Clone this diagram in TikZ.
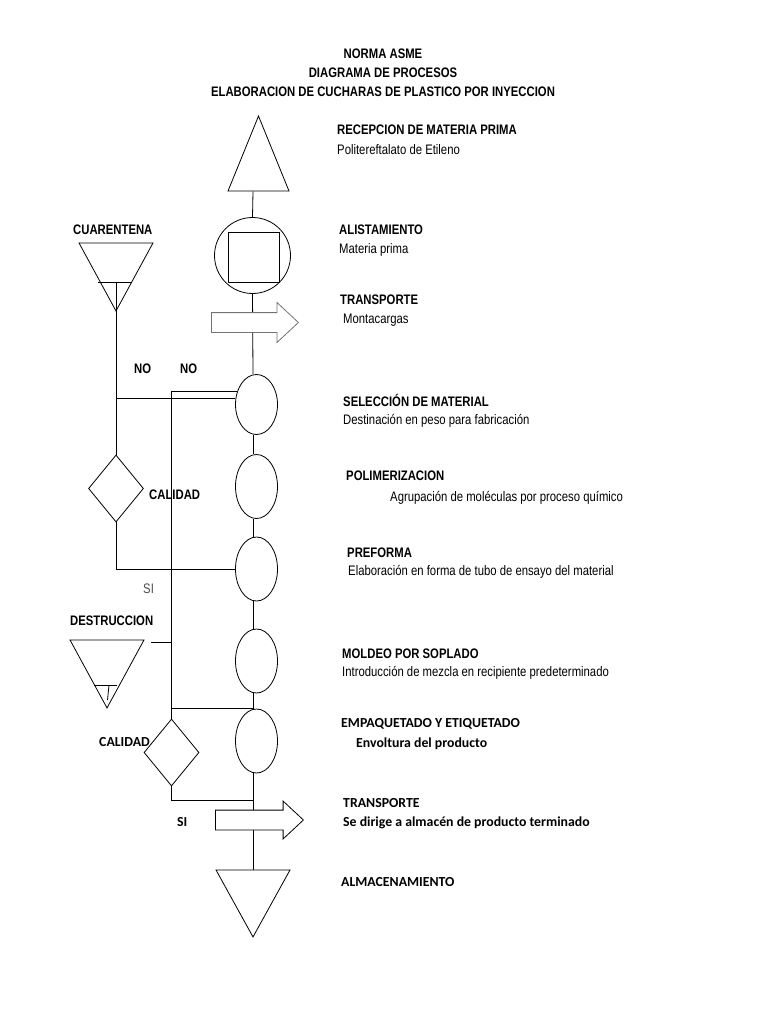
\documentclass[tikz,border=0pt]{standalone}
\usepackage{fontspec}
\setmainfont{Liberation Sans}[FakeStretch=0.82]
\newfontfamily\calibri{Carlito}
\usetikzlibrary{shapes.geometric,shapes.arrows,backgrounds,calc}

\begin{document}
\begin{tikzpicture}[x=1pt,y=-1pt]
\tikzstyle{main}=[draw=black, line width=0.8pt, inner sep=0pt, fill=white]
\tikzstyle{oper}=[main, ellipse, minimum width=42, minimum height=64]
\tikzstyle{insp}=[main, circle, minimum size=76]
\tikzstyle{almac}=[main, isosceles triangle, isosceles triangle stretches, shape border rotate=270, minimum width=74, minimum height=68, anchor=apex]
\tikzstyle{recep}=[almac, shape border rotate=90, minimum width=61, minimum height=75]
\tikzstyle{transp}=[main, single arrow, inner ysep=9.5pt, single arrow head extend=10, single arrow tip angle=86, minimum height=87, anchor=tail]
\tikzstyle{decis}=[main, diamond, minimum width=55, minimum height=67]
\tikzstyle{connect}=[line width=0.8pt]
\tikzstyle{tit}=[inner sep=0pt, anchor=base, font=\bfseries\fontsize{13.8}{16}\selectfont]
\tikzstyle{etiq}=[inner sep=0pt, anchor=base west, font=\bfseries\fontsize{13.8}{16}\selectfont]
\tikzstyle{desc}=[etiq, font=\fontsize{13.8}{16}\selectfont]
\tikzstyle{cetiq}=[etiq, font=\calibri\bfseries\fontsize{13.8}{16}\selectfont]

  \useasboundingbox (0,0) rectangle (768,1024);

  % titulo
  \node[tit] (tit1) at (383,59) {NORMA ASME};
  \node[tit] (tit2) at (383,78) {DIAGRAMA DE PROCESOS};
  \node[tit] (tit3) at (383,97) {ELABORACION DE CUCHARAS DE PLASTICO POR INYECCION};

  % columna principal
  \coordinate (eje) at (253,0);
  \node[recep] (recep) at (258.5,115) {};
  \node[insp]  (insp)  at (252.5,255.5) {};
  \node[main, rectangle, minimum width=51, minimum height=50] (cuad) at (253.5,257) {};
  \node[transp, draw=black!55] (trans1) at (211,322.5) {};
  \node[oper, minimum height=60] (E1) at (256.5,404.5) {};
  \node[oper] (E2) [below of =E1, node distance=82]   {};
  \node[oper] (E3) [below of =E2, node distance=82.5] {};
  \node[oper] (E4) [below of =E3, node distance=92]   {};
  \node[oper] (E5) [below of =E4, node distance=80]   {};
  \node[transp, minimum height=88, single arrow head extend=9] (trans2) at (215,820) {};
  \node[almac, minimum height=67] (alm) at (253,938) {};
  \coordinate (uni) at (253,800);

  % ramas de control
  \node[almac] (cuar) at (116,312) {};
  \draw[connect] (97.5,282) -- (130.5,282);
  \draw[connect] (116,282) -- (cuar.apex);
  \node[decis] (cal1) at (116,488.5) {};
  \node[decis] (cal2) at (171.5,752.5) {};
  \node[almac] (des) at (107,709) {};
  \draw[connect] (94,685) -- (117,685);
  \draw[connect] (109,685) -- (107.5,700);
  \coordinate (desj) at (151,642);

  \begin{pgfonlayer}{background}
  \draw[connect] (recep.lower side -| eje) -- (insp.north);
  \draw[connect] (insp.south) -- (E1.north -| eje);
  \draw[connect] (E1.south -| eje) -- (E2.north -| eje);
  \draw[connect] (E2.south -| eje) -- (E3.north -| eje);
  \draw[connect] (E3.south -| eje) -- (E4.north -| eje);
  \draw[connect] (E4.south -| eje) -- (E5.north -| eje);
  \draw[connect] (E5.south -| eje) -- (alm.lower side -| eje);
  \draw[connect] (cuar.apex) -- (cal1.north);
  \draw[connect] (E1.165) -| (cal1.north);
  \draw[connect] (cal1.south) |- (E3.west);
  \draw[connect] (E1.147) -| (cal2.north);
  \draw[connect] (cal2.north |- E5.north) -- (E5.north -| eje);
  \draw[connect] (cal2.south) |- (uni);
  \draw[connect] (desj) -- (desj -| cal2.north);
  \end{pgfonlayer}

  % etiquetas izquierda
  \node[etiq] (lcuar) at (73,235) {CUARENTENA};
  \node[etiq] (lno1)  at (134,373) {NO};
  \node[etiq] (lno2)  at (180,373) {NO};
  \node[etiq] (lcal1) at (149,499) {CALIDAD};
  \node[desc, black!70] (lsi1) at (143,593) {SI};
  \node[etiq] (ldes)  at (70,625) {DESTRUCCION};
  \node[cetiq] (lcal2) at (99,746) {CALIDAD};
  \node[cetiq] (lsi2)  at (177,826) {SI};

  % etiquetas derecha
  \node[etiq] (tRecep) at (337,135) {RECEPCION DE MATERIA PRIMA};
  \node[desc] (dRecep) at (337,155) {Politereftalato de Etileno};
  \node[etiq] (tAlist) at (339,235) {ALISTAMIENTO};
  \node[desc] (dAlist) at (339,253.5) {Materia prima};
  \node[etiq] (tTrans1) at (340,304) {TRANSPORTE};
  \node[desc] (dTrans1) at (343,323) {Montacargas};
  \node[etiq] (tSel) at (343,406) {SELECCIÓN DE MATERIAL};
  \node[desc] (dSel) at (343,424) {Destinación en peso para fabricación};
  \node[etiq] (tPol) at (346,480) {POLIMERIZACION};
  \node[desc] (dPol) at (390,501) {Agrupación de moléculas por proceso químico};
  \node[etiq] (tPre) at (347,557) {PREFORMA};
  \node[desc] (dPre) at (348,575) {Elaboración en forma de tubo de ensayo del material};
  \node[etiq] (tMol) at (342,658) {MOLDEO POR SOPLADO};
  \node[desc] (dMol) at (342,676) {Introducción de mezcla en recipiente predeterminado};
  \node[cetiq] (tEmp) at (341,727) {EMPAQUETADO Y ETIQUETADO};
  \node[cetiq] (dEmp) at (356,747) {Envoltura del producto};
  \node[cetiq] (tTrans2) at (343,807) {TRANSPORTE};
  \node[cetiq] (dTrans2) at (343,826) {Se dirige a almacén de producto terminado};
  \node[cetiq] (tAlm) at (341,886) {ALMACENAMIENTO};

\end{tikzpicture}
\end{document}
